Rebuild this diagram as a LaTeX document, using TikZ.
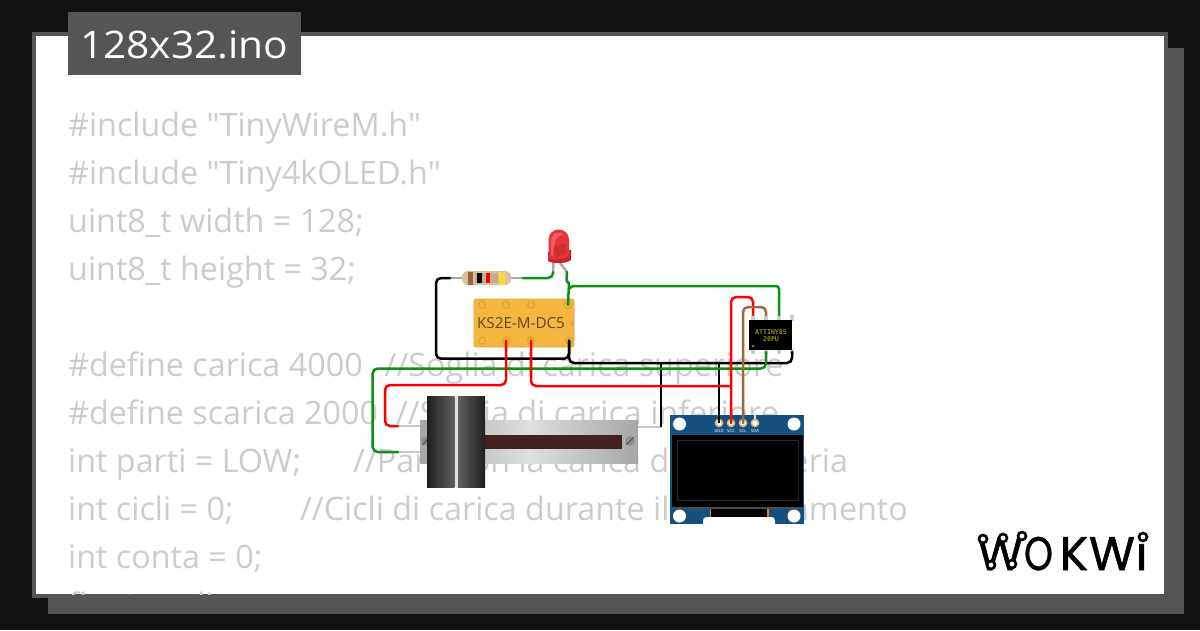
\documentclass[tikz,border=0pt]{standalone}
\usepackage{fontspec}
\usepackage{graphicx}
\setmainfont{Open Sans}
\newfontfamily\titlefont[FakeStretch=1.07]{Open Sans}
\newfontfamily\logofont[FakeBold=1.2]{Poppins}
\newfontfamily\monof{DejaVu Sans Mono}
\definecolor{bgdark}{HTML}{111111}
\definecolor{panelgray}{HTML}{555555}
\definecolor{codegray}{HTML}{CCCCCC}
\definecolor{wgreen}{HTML}{0F8F14}
\definecolor{wbrown}{HTML}{A0693C}
\definecolor{leadgray}{HTML}{AAAAAA}
\definecolor{potlead}{HTML}{C8C8C8}
\definecolor{relayor}{HTML}{F4B63F}
\definecolor{relaypin}{HTML}{E0A23C}
\definecolor{relaytext}{HTML}{5C4A1E}
\definecolor{oledblue}{HTML}{15507F}
\definecolor{slotbrown}{HTML}{42211F}
\definecolor{ledred}{HTML}{E8333A}
\definecolor{ledred2}{HTML}{C4262C}
\definecolor{ledshade}{HTML}{C9302F}
\definecolor{resbody}{HTML}{DDBE9F}
\definecolor{pingold}{HTML}{E3B778}
\definecolor{chiptext}{HTML}{8F8F08}
\tikzset{
  codeline/.style={anchor=base west,inner sep=0pt,text=codegray,font=\fontsize{32.3}{38}\selectfont},
  wire/.style={line width=2.5pt,rounded corners=5pt,line cap=round},
  lead/.style={line width=2.5pt,leadgray},
  relayhole/.style={circle,draw=relaypin,line width=1.3pt,minimum size=7pt,inner sep=0pt},
  pinhole/.style={circle,draw=pingold,fill=white,line width=1.6pt,minimum size=7pt,inner sep=0pt},
  bighole/.style={circle,fill=white,minimum size=13pt,inner sep=0pt},
  screw/.style={circle,fill=gray!90,draw=gray!70,minimum size=10pt,inner sep=0pt},
  oledlabel/.style={text=white,inner sep=0pt,font=\fontsize{4.3}{5}\selectfont},
  logohole/.style={circle,draw=black,fill=white,line width=2.6pt,minimum size=8pt,inner sep=0pt},
}
\begin{document}
\begin{tikzpicture}[x=1pt,y=-1pt]
\useasboundingbox (0,0) rectangle (1200,630);
\fill[bgdark] (0,0) rectangle (1200,630);
\fill[panelgray] (48,48) rectangle (1184,614);
\fill[panelgray] (32,32) rectangle (1168,598);
\fill[white] (36,36) rectangle (1164,594);
% code
\begin{scope}
\clip (36,36) rectangle (1164,594);
\node[codeline] (c1) at (68,136.3) {\#include \textquotedbl TinyWireM.h\textquotedbl};
\node[codeline] (c2) at (68,184.3) {\#include \textquotedbl Tiny4kOLED.h\textquotedbl};
\node[codeline] (c3) at (68,232.3) {uint8\_t width = 128;};
\node[codeline] (c4) at (68,280.3) {uint8\_t height = 32;};
\node[codeline] (c6) at (68,376.3) {\#define carica 4000\hspace*{22pt}//Soglia di carica superiore};
\node[codeline] (c7) at (68,424.3) {\#define scarica 2000\hspace*{18pt}//Soglia di carica inferiore};
\node[codeline] (c8) at (68,472.3) {int parti = LOW;\hspace*{52pt}//Parti con la carica della batteria};
\node[codeline] (c9) at (68,520.3) {int cicli = 0;\hspace*{66.5pt}//Cicli di carica durante il funzionamento};
\node[codeline] (c10) at (68,568.3) {int conta = 0;};
\node[codeline] (c11) at (68,616.3) {float soglia;};
\end{scope}
% title tab
\fill[panelgray] (68,12) rectangle (301,75);
\node[anchor=base west,inner sep=0pt,text=white,font=\fontsize{38}{44}\titlefont] (title) at (80,58) {128x32.ino};
% resistor
\draw[lead] (450,278) -- (523,278);
\fill[resbody,rounded corners=6pt] (462,271) rectangle (511,285);
\fill[resbody!90!black] (475,273) rectangle (498,283);
\fill[brown!80!black] (468,271.5) rectangle (473,284.5);
\fill[black] (477,273) rectangle (482,283);
\fill[red] (486,273) rectangle (490,283);
\fill[yellow!70!orange!80!white] (499,271.5) rectangle (505,284.5);
% LED legs and LED
\draw[lead] (553.5,262) -- (553,272);
\draw[lead] (560,263) -- (567,272);
\fill[ledred2] (548,252) -- (571,250) -- (571,260) .. controls (566,264) and (553,264) .. (548,261) -- cycle;
\fill[ledred] (548.5,240) .. controls (548.5,226) and (569,226) .. (569,240) -- (569,256) .. controls (564,260) and (553,260) .. (548.5,258) -- cycle;
\fill[ledshade] (554,247) -- (566,243) -- (566,254) -- (556,257) -- cycle;
\fill[white,opacity=.22] (551,243) .. controls (551,232) and (560,230) .. (564,235) .. controls (557,235) and (554,238) .. (553,256) -- (551,255) -- cycle;
% relay
\fill[relayor,rounded corners=2pt,draw=relaypin,line width=.6pt] (474,299) rectangle (574,347);
\fill[relaypin] (571,321) rectangle (574,326);
\foreach \n/\x/\y in {ra/482/304.7,rb/506/304.7,rc/531/304.7,rd/568/304.7,re/482/340.7,rf/506/340.7,rg/531/340.7,rh/569/340.7}
  \node[relayhole] (\n) at (\x,\y) {};
\node[inner sep=0pt,text=relaytext,font=\fontsize{15.2}{18}\selectfont] (relaytxt) at (521,323) {KS2E-M-DC5};
% ATtiny
\foreach \x in {753,766,779,792}{
  \fill[gray!40] (\x-2.2,315) rectangle (\x+2.2,321);
  \fill[gray!40] (\x-2.2,349) rectangle (\x+2.2,354);
}
\fill[black] (749,320) rectangle (792,350);
\fill[gray] (753,346) circle (1.3pt);
\node[inner sep=0pt,text=chiptext,align=center,font=\fontsize{6.6}{7.2}\monof\bfseries] (chip) at (771,335.5) {ATTINY85\\20PU};
% slide pot
\draw[line width=2.5pt,potlead] (398,426) -- (422,426);
\draw[line width=2.5pt,potlead] (398,452) -- (422,452);
\draw[line width=2.5pt,potlead] (637,427) -- (661,427);
\shade[left color=gray!70,right color=gray!70,middle color=gray!25] (420,420) rectangle (638,463);
\fill[slotbrown] (480,435) rectangle (622,449);
\node[screw] (s1) at (426,441) {};
\node[screw] (s2) at (630,441) {};
\draw[black!70,line width=.8pt] (s1.south west) -- (s1.north east);
\draw[black!70,line width=.8pt] (s2.south west) -- (s2.north east);
\shade[left color=black!88,right color=black!62] (427,396) rectangle (454.5,487);
\shade[left color=black!62,right color=black!88] (457.5,396) rectangle (485,487);
\fill[gray!25] (454.5,396) rectangle (457.5,487);
% OLED
\fill[oledblue] (670,415) rectangle (804,524);
\foreach \n/\x/\y in {h1/679.5/424,h2/794/424,h3/679.5/516,h4/794/516}
  \node[bighole] (\n) at (\x,\y) {};
\fill[black] (672,435) rectangle (803,507);
\draw[black!85!white,line width=.6pt] (677,440) rectangle (798,500);
\fill[black!70] (672,507) rectangle (803,509);
\fill[black] (710,509) rectangle (768,519);
\fill[orange!70!brown] (709.5,509) rectangle (711,519);
\fill[orange!70!brown] (767,509) rectangle (768.5,519);
\fill[white] (703,524) -- (703,521) .. controls (703,518) and (704,517) .. (707,517) -- (771,517) .. controls (774,517) and (775,518) .. (775,521) -- (775,524) -- cycle;
\fill[gray!25] (754,415) rectangle (756,420);
\foreach \n/\x in {pg/719,pv/731,ps/743,pd/755}
  \node[pinhole] (\n) at (\x,423) {};
\node[oledlabel] (lg) at (719,430.5) {GND};
\node[oledlabel] (lv) at (731,430.5) {VCC};
\node[oledlabel] (ls) at (743,430.5) {SCL};
\node[oledlabel] (ld) at (755,430.5) {SDA};
% wire coordinates
\coordinate (rl) at (450,278);
\coordinate (rr) at (523,278);
\coordinate (ledA) at (553,272);
\coordinate (ledC) at (567,272);
\coordinate (j1) at (569,289);
\coordinate (t1) at (753,315);
\coordinate (t2) at (766,315);
\coordinate (t3) at (779,315);
\coordinate (b2) at (766,352);
\coordinate (b4) at (792,352);
\coordinate (potA) at (398,426);
\coordinate (potB) at (398,452);
\coordinate (potC) at (661,427);
% wires
\draw[wire,black] (rl) -- (436,278) -- (436,358.7) -- (569,358.7) -- (rh.center);
\draw[wire,black] (rh.center) -- (569,363) -- (792,363) -- (b4);
\draw[wire,black,line cap=butt] (661,363) -- (potC);
\draw[wire,black,line cap=butt] (719,363) -- (pg.center);
\draw[wire,wgreen] (rr) -- (553,278) -- (ledA);
\draw[wire,wgreen,rounded corners=1pt] (ledC) -- (566.5,281) -- (569,283) -- (rd.center);
\draw[wire,wgreen,rounded corners=3pt] (j1) -- (571,286) -- (779,286) -- (t3);
\draw[wire,wgreen] (potB) -- (372.7,452) -- (372.7,368.5) -- (766,368.5) -- (b2);
\draw[wire,red] (rf.center) -- (506,385) -- (385,385) -- (385,426) -- (potA);
\draw[wire,red] (rg.center) -- (531,386) -- (731,386);
\draw[wire,red] (pv.center) -- (731,297) -- (753,297) -- (t1);
\draw[wire,wbrown] (ps.center) -- (743,307) -- (766,307) -- (t2);
% logo
\node[anchor=base west,inner sep=0pt,text=black,font=\fontsize{47}{50}\logofont] (logo) at (977,570) {W\hspace*{1pt}\scalebox{.78}[1]{O}\hspace*{7pt}K\hspace*{1pt}W\hspace*{1pt}i};
\foreach \n/\x/\y in {w1/983/539,w2/1003/538,w3/1022/536,w4/991/565,w5/1012/564,w6/1143/537}
  \node[logohole] (\n) at (\x,\y) {};
\end{tikzpicture}
\end{document}
